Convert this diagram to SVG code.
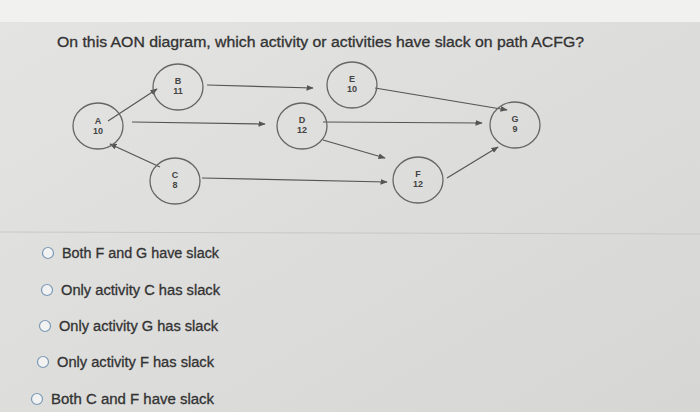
<svg xmlns="http://www.w3.org/2000/svg" width="700" height="412" viewBox="0 0 700 412">
<defs>
<linearGradient id="bg" x1="0" y1="0" x2="1" y2="1"><stop offset="0" stop-color="#e4e4e2"/><stop offset="1" stop-color="#d6d6d4"/></linearGradient>
<marker id="ar" viewBox="0 0 10 10" refX="9" refY="5" markerWidth="6" markerHeight="6" orient="auto"><path d="M0,1 L10,5 L0,9 z" fill="#555"/></marker>
</defs>
<style>
.n ellipse{fill:none;stroke:#666;stroke-width:1.3}
.n text{font-family:"Liberation Sans",Arial,sans-serif;font-size:9px;font-weight:bold;fill:#444;text-anchor:middle}
#edges line{stroke:#555;stroke-width:1.2;marker-end:url(#ar)}
.t{font-family:"Liberation Sans",Arial,sans-serif;font-size:14px;fill:#333;stroke:#333;stroke-width:0.3}
.r{fill:#f2f2f2;stroke:#7a9ab5;stroke-width:1.2}
</style>
<rect width="700" height="412" fill="url(#bg)"/>
<rect width="700" height="22" fill="#f1f1f0"/>
<line x1="0" y1="232" x2="700" y2="234" stroke="#c8c8c6"/>
<text class="t" x="57" y="47" textLength="527" lengthAdjust="spacingAndGlyphs">On this AON diagram, which activity or activities have slack on path ACFG?</text>
<g id="edges">
<line x1="108" y1="121" x2="157" y2="89"/>
<line x1="160" y1="167" x2="110" y2="144"/>
<line x1="207" y1="85" x2="313" y2="88"/>
<line x1="132" y1="122" x2="265" y2="124"/>
<line x1="375" y1="88" x2="507" y2="110"/>
<line x1="323" y1="122" x2="482" y2="123"/>
<line x1="323" y1="140" x2="385" y2="158"/>
<line x1="202" y1="178" x2="387" y2="182"/>
<line x1="447" y1="178" x2="498" y2="147"/>
</g>
<g id="A" class="n"><ellipse cx="98" cy="126" rx="25" ry="23"/><text x="98" y="124">A</text><text x="98" y="134">10</text></g>
<g id="B" class="n"><ellipse cx="178" cy="87" rx="25" ry="23"/><text x="178" y="84">B</text><text x="178" y="94">11</text></g>
<g id="C" class="n"><ellipse cx="175" cy="181" rx="25" ry="23"/><text x="175" y="178">C</text><text x="175" y="188">8</text></g>
<g id="D" class="n"><ellipse cx="302" cy="126" rx="25" ry="23"/><text x="302" y="123">D</text><text x="302" y="133">12</text></g>
<g id="E" class="n"><ellipse cx="352" cy="85" rx="25" ry="23"/><text x="352" y="82">E</text><text x="352" y="92">10</text></g>
<g id="F" class="n"><ellipse cx="418" cy="180" rx="25" ry="23"/><text x="418" y="177">F</text><text x="418" y="187">12</text></g>
<g id="G" class="n"><ellipse cx="515" cy="125" rx="25" ry="23"/><text x="515" y="122">G</text><text x="515" y="132">9</text></g>
<circle class="r" cx="48" cy="253" r="5.5"/><text class="t" x="62" y="258" textLength="157" lengthAdjust="spacingAndGlyphs">Both F and G have slack</text>
<circle class="r" cx="47" cy="290" r="5.5"/><text class="t" x="61" y="295" textLength="159" lengthAdjust="spacingAndGlyphs">Only activity C has slack</text>
<circle class="r" cx="45" cy="326" r="5.5"/><text class="t" x="59" y="331" textLength="159" lengthAdjust="spacingAndGlyphs">Only activity G has slack</text>
<circle class="r" cx="43" cy="362" r="5.5"/><text class="t" x="57" y="367" textLength="157" lengthAdjust="spacingAndGlyphs">Only activity F has slack</text>
<circle class="r" cx="37" cy="399" r="5.5"/><text class="t" x="51" y="404" textLength="163" lengthAdjust="spacingAndGlyphs">Both C and F have slack</text>
</svg>
